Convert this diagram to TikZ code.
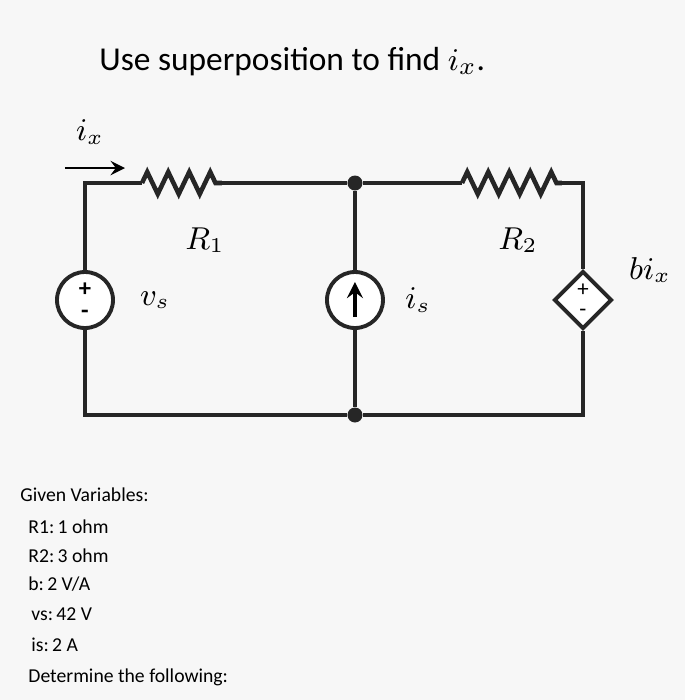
\documentclass[tikz,border=0pt]{standalone}
\usepackage{fontspec}
\setmainfont{Carlito}
\usetikzlibrary{shapes.geometric, arrows, decorations.pathmorphing}
\tikzstyle{wire} = [line width=1.3pt, draw=black!85]
\tikzstyle{res} = [wire, decorate, decoration={zigzag, segment length=2.1mm, amplitude=1.1mm}]
\tikzstyle{src} = [circle, minimum size=0.56cm, draw=black!85, line width=1.1pt, fill=white, inner sep=0pt]
\tikzstyle{dep} = [diamond, minimum size=0.58cm, draw=black!85, line width=1.1pt, fill=white, inner sep=0pt]
\tikzstyle{dot} = [circle, fill=black!85, minimum size=1.5mm, inner sep=0pt]
\tikzstyle{lbl} = [font=\fontsize{9}{10}\selectfont]
\tikzstyle{txt} = [anchor=west, font=\fontsize{5.6}{6}\selectfont]
\tikzstyle{arrow} = [thick,->,>=stealth]

\begin{document}
\begin{tikzpicture}
\useasboundingbox (0,0) rectangle (6.85,7);
\fill[black!3] (0,0) rectangle (6.85,7);

% corners and junctions
\coordinate (tl) at (0.82,5.17);
\coordinate (bl) at (0.82,2.85);
\coordinate (tr) at (5.83,5.17);
\coordinate (br) at (5.83,2.85);
\coordinate (r1a) at (1.42,5.17);
\coordinate (r1b) at (2.22,5.17);
\coordinate (r2a) at (4.62,5.17);
\coordinate (r2b) at (5.62,5.17);
\node (top) [dot] at (3.55,5.17) {};
\node (bot) [dot] at (3.55,2.85) {};

% sources
\node (vs) [src] at (0.85,4.0) {};
\node (is) [src] at (3.55,4.0) {};
\node (dv) [dep] at (5.83,4.0) {};

\draw [wire] (vs.north) -- (vs.north |- tl) -- (r1a);
\draw [res] (r1a) -- (r1b);
\draw [wire] (r1b) -- (top) -- (r2a);
\draw [res] (r2a) -- (r2b);
\draw [wire] (r2b) -- (tr) -- (dv.north);
\draw [wire] (vs.south) -- (vs.south |- bl) -- (bot) -- (br) -- (dv.south);
\draw [wire] (top) -- (is.north);
\draw [wire] (is.south) -- (bot);

% source marks
\node at ([yshift=0.1cm]vs.center) [font=\bfseries\fontsize{7}{7}\selectfont] {+};
\node at ([yshift=-0.14cm]vs.center) [font=\bfseries\fontsize{7}{7}\selectfont] {-};
\draw [arrow, line width=1pt] ([yshift=-0.17cm]is.center) -- ([yshift=0.18cm]is.center);
\node at ([yshift=0.1cm]dv.center) [font=\fontsize{6.5}{6}\selectfont] {+};
\node at ([yshift=-0.13cm]dv.center) [font=\fontsize{6.5}{6}\selectfont] {-};

% labels
\coordinate (ia) at (0.65,5.32);
\coordinate (ib) at (1.25,5.32);
\draw [arrow] (ia) -- (ib);
\node (ix) [lbl] at (0.9,5.68) {$i_x$};
\node (R1) [lbl] at (2.05,4.6) {$R_1$};
\node (R2) [lbl] at (5.18,4.6) {$R_2$};
\node (vsl) [lbl] at (1.55,4.0) {$v_s$};
\node (isl) [lbl] at (4.18,4.0) {$i_s$};
\node (bix) [lbl] at (6.5,4.3) {$bi_x$};

\node (title) [anchor=west, font=\fontsize{9.5}{10}\selectfont] at (0.87,6.38) {Use superposition to find $i_x$.};

\node (g0) [txt] at (0.08,2.05) {Given Variables:};
\node (g1) [txt] at (0.16,1.73) {R1:\,1 ohm};
\node (g2) [txt] at (0.16,1.44) {R2:\,3 ohm};
\node (g3) [txt] at (0.16,1.16) {b:\,2 V/A};
\node (g4) [txt] at (0.19,0.86) {vs:\,42 V};
\node (g5) [txt] at (0.19,0.55) {is:\,2 A};
\node (g6) [txt] at (0.16,0.23) {Determine the following:};
\end{tikzpicture}
\end{document}
